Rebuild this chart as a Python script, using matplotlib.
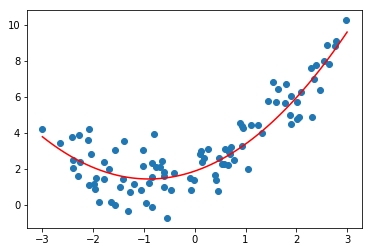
import numpy as np
import matplotlib
matplotlib.use('Agg')
import matplotlib.pyplot as plt

# scatter points
x = [-3.0, -2.65, -2.41, -2.27, -2.08, -2.10, -2.40, -2.39, -2.26, -2.29,
     -2.04, -2.08, -1.98, -1.94, -1.96, -1.88, -1.78, -1.78, -1.68, -1.64,
     -1.58, -1.58, -1.47, -1.41, -1.39, -1.31, -1.27, -1.19, -1.05, -1.01,
     -1.01, -0.96, -0.91, -0.84, -0.84, -0.80, -0.84, -0.76, -0.68, -0.64,
     -0.60, -0.60, -0.60, -0.54, -0.46, -0.41, -0.09, -0.01, -0.07,
     0.10, 0.13, 0.18, 0.15, 0.27, 0.39, 0.42, 0.46, 0.48, 0.54,
     0.58, 0.60, 0.66, 0.68, 0.72, 0.70, 0.78, 0.93, 0.90, 0.93,
     0.95, 1.05, 1.10, 1.25, 1.33, 1.44, 1.55, 1.60, 1.64, 1.80,
     1.78, 1.90, 1.88, 1.90, 2.01, 2.01, 2.05, 2.09, 2.31, 2.29,
     2.39, 2.35, 2.46, 2.54, 2.64, 2.60, 2.76, 2.78, 2.97]
y = [4.22, 3.44, 3.78, 3.89, 4.22, 3.63, 2.50, 2.07, 2.39, 1.63,
     2.83, 1.13, 1.17, 1.52, 0.89, 0.19, 2.43, 1.44, 2.02, 0.19,
     0.02, 3.06, 1.00, 1.44, 3.56, -0.31, 0.72, 1.17, 0.83, 3.06,
     2.19, 0.11, 1.22, 2.33, 1.57, 3.94, -0.11, 2.13, 2.13, 2.44,
     1.83, 1.61, 1.00, -0.72, 0.83, 1.78, 1.50, 1.39, 0.83,
     2.83, 3.00, 2.65, 2.39, 3.11, 1.69, 1.39, 0.78, 2.63, 2.31,
     2.31, 3.11, 2.22, 2.94, 3.24, 2.83, 2.50, 3.28, 4.56, 4.43,
     4.31, 2.00, 4.44, 4.44, 4.00, 5.78, 6.83, 5.72, 6.44, 6.72,
     5.67, 6.06, 5.00, 4.50, 5.72, 4.80, 4.89, 6.28, 4.89, 7.61,
     7.76, 7.00, 6.39, 8.00, 7.83, 8.89, 8.83, 9.11, 10.28]

# fitted quadratic (a, b, c)
coef = [0.534, 0.967, 1.903]
xs = np.linspace(-3, 3, 100)

fig = plt.figure(figsize=(372 / 72, 252 / 72), dpi=72)
plt.subplots_adjust(left=0.073, right=0.974, top=0.960, bottom=0.094)
plt.scatter(x, y)
plt.plot(xs, np.polyval(coef, xs), color='red')
plt.xticks([-3, -2, -1, 0, 1, 2, 3])
plt.yticks([0, 2, 4, 6, 8, 10])

plt.savefig('out.png', dpi=72)
